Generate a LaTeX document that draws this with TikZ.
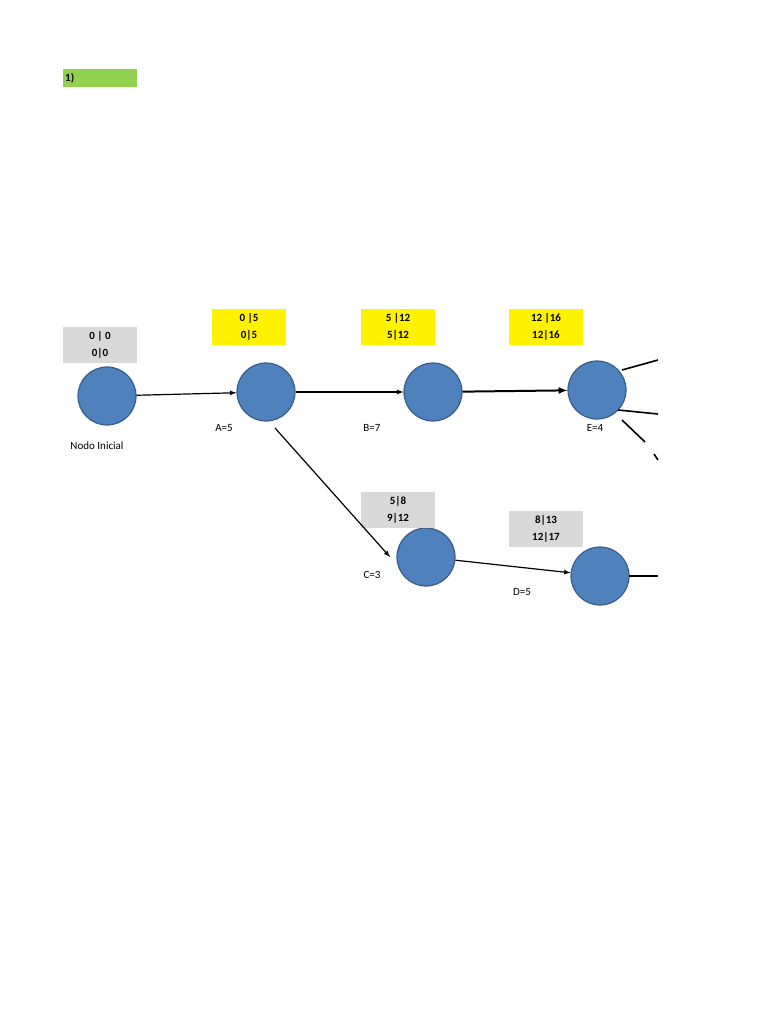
\documentclass[tikz,border=0pt]{standalone}
\usepackage{fontspec}
\setmainfont{Carlito}
\begin{document}
\begin{tikzpicture}[x=1pt,y=-1pt,
  nd/.style={circle,draw={rgb,255:red,56;green,93;blue,138},line width=1.2pt,fill={rgb,255:red,79;green,129;blue,189},minimum size=58pt,inner sep=0},
  ybox/.style={fill=yellow,minimum width=74pt,minimum height=36pt,inner sep=0,align=center,font=\fontsize{11}{17}\selectfont\bfseries},
  gbox/.style={ybox,fill={rgb,255:red,217;green,217;blue,217}},
  lbl/.style={font=\fontsize{11}{13}\selectfont,inner sep=0},
  arr/.style={-latex,line width=1.2pt},
  ln/.style={line width=1.6pt}]
\useasboundingbox (0,0) rectangle (768,1024);
\fill[white] (0,0) rectangle (768,1024);
\node[fill={rgb,255:red,146;green,208;blue,80},minimum width=74pt,minimum height=18pt,inner sep=0] (g) at (100,78) {};
\node[lbl,anchor=west,font=\fontsize{11}{13}\selectfont\bfseries] (gt) at (65,78) {1)};
\node[nd] (s) at (107,396) {};
\node[nd] (a) at (266,392) {};
\node[nd] (b) at (433,392) {};
\node[nd] (e) at (597,390) {};
\node[nd] (c) at (426,557) {};
\node[nd] (d) at (600,576) {};
\node[gbox] (sb) at (100,345) {0 | 0\\0|0};
\node[ybox] (ab) at (249,327) {0 |5\\0|5};
\node[ybox] (bb) at (398,327) {5 |12\\5|12};
\node[ybox] (eb) at (546,327) {12 |16\\12|16};
\node[gbox] (cb) at (398,510) {5|8\\9|12};
\node[gbox] (db) at (546,529) {8|13\\12|17};
\node[lbl] (sl) at (97,446) {Nodo Inicial};
\node[lbl] (al) at (224,428) {A=5};
\node[lbl] (bl) at (372,428) {B=7};
\node[lbl] (el) at (595,428) {E=4};
\node[lbl] (cl) at (372,575) {C=3};
\node[lbl] (dl) at (522,592) {D=5};
\coordinate (e1) at (658,360);
\coordinate (e2) at (658,414);
\coordinate (e3) at (658,460);
\coordinate (d1) at (658,576);
\draw[arr] (s) -- (a);
\draw[arr] (a) -- (b);
\draw[arr,line width=2pt] (b) -- (e);
\draw[arr] (275,428) -- (390,557);
\draw[arr] (c) -- (d);
\draw[ln] (e) ++(25,-20) -- (e1);
\draw[ln] (618,410) -- (e2);
\draw[ln] (622,420) -- (645,442);
\draw[ln] (654,454) -- (e3);
\draw[ln] (d) ++(29,0) -- (d1);
\end{tikzpicture}
\end{document}
